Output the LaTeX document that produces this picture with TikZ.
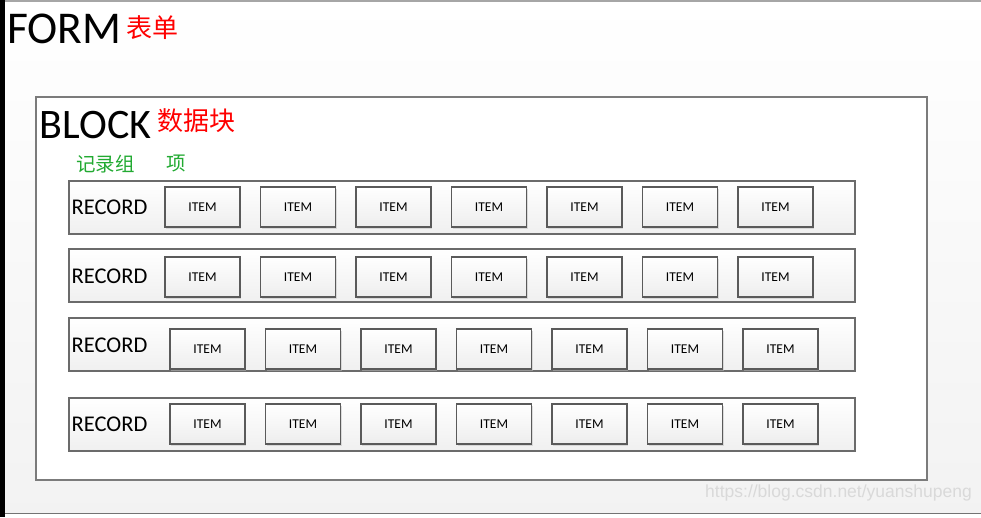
\documentclass[tikz,border=0pt]{standalone}
\usepackage{fontspec}
\setmainfont{Carlito}
\newfontfamily\cjk{Noto Sans CJK SC}
\newfontfamily\wmfont{Liberation Sans}
\usetikzlibrary{shadows}
\definecolor{cjkred}{RGB}{255,0,0}
\definecolor{cjkgreen}{RGB}{34,170,50}
\definecolor{edgegray}{RGB}{90,90,90}
\tikzset{
  blockbox/.style={draw=edgegray!80, line width=1.1pt, fill=white, inner sep=0pt, outer sep=0pt, anchor=north west,
    drop shadow={shadow xshift=1pt, shadow yshift=-1pt, fill=black!20, opacity=0.6}},
  recordbox/.style={draw=edgegray!90, line width=1.05pt, top color=white, bottom color=black!6, inner sep=0pt, outer sep=0pt,
    anchor=north west, minimum width=786pt, minimum height=53pt,
    drop shadow={shadow xshift=1pt, shadow yshift=-1.2pt, fill=black!20, opacity=0.6}},
  itembox/.style={draw=edgegray, line width=1.1pt, top color=white, bottom color=black!7, inner sep=0pt, outer sep=0pt,
    anchor=north west, minimum width=75pt, minimum height=40pt, font=\fontsize{13.5}{13.5}\selectfont,
    drop shadow={shadow xshift=1.2pt, shadow yshift=-1.5pt, fill=black!25, opacity=0.5}},
  bigtitle/.style={inner sep=0pt, anchor=west, text=black},
  recordlabel/.style={inner sep=0pt, anchor=west, font=\fontsize{22.5}{22.5}\selectfont},
  redcjk/.style={inner sep=0pt, anchor=west, text=cjkred, font=\cjk\fontsize{26}{26}\selectfont},
  greencjk/.style={inner sep=0pt, anchor=west, text=cjkgreen, font=\cjk\fontsize{19.5}{19.5}\selectfont}
}
\begin{document}
\begin{tikzpicture}[x=1pt,y=-1pt]
\useasboundingbox (0,0) rectangle (981,517);
\shade[top color=white, bottom color=black!5] (0,0) rectangle (981,513);
\fill[white] (0,513) rectangle (981,517);
\draw[black!35, line width=1.5pt] (0,0.75) -- (981,0.75);
\draw[black!55, line width=1.5pt] (0,513.5) -- (981,513.5);
\fill[black] (0,0) rectangle (4.5,517);

\node[bigtitle, font=\fontsize{45.5}{45.5}\selectfont] (form) at (7,29) {FORM};
\node[redcjk] (formcn) at (126,28) {表单};

\node[blockbox, minimum width=891pt, minimum height=383pt] (block) at (36,97) {};
\node[bigtitle, font=\fontsize{42}{42}\selectfont] (blocklbl) at (39.5,125) {BLOCK};
\node[redcjk] (blockcn) at (157,121) {数据块};
\node[greencjk] (reccn) at (76,164) {记录组};
\node[greencjk] (itemcn) at (166,164) {项};

% records
\foreach \r/\ry/\ly in {1/181/207, 2/249/276, 3/318/345, 4/398/424}{
  \node[recordbox] (rec\r) at (69,\ry) {};
  \node[recordlabel] (reclbl\r) at (71.5,\ly) {RECORD};
}
% items
\foreach \r/\iy/\ix in {1/187/165, 2/257/165, 3/329/170, 4/404/170}{
  \foreach \c in {0,...,6}{
    \node[itembox] (item\r-\c) at ({\ix+95.5*\c},\iy) {ITEM};
  }
}

\node[inner sep=0pt, anchor=west, text=black!15, font=\wmfont\fontsize{17.5}{17.5}\selectfont] (wm) at (705,493) {https://blog.csdn.net/yuanshupeng};
\end{tikzpicture}
\end{document}
